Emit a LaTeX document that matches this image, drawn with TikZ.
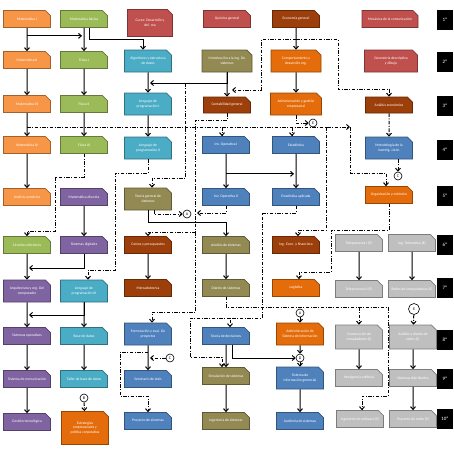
\documentclass[tikz,border=0pt]{standalone}
\usepackage{fontspec}
\setmainfont{Carlito}
\usepackage{tikz}
\usetikzlibrary{arrows.meta,calc,positioning,shapes.misc}
\definecolor{naranja}{HTML}{F79646}
\definecolor{verde}{HTML}{9BBB59}
\definecolor{rojo}{HTML}{C0504D}
\definecolor{turquesa}{HTML}{4BACC6}
\definecolor{oliva}{HTML}{938953}
\definecolor{marron}{HTML}{9C3F0B}
\definecolor{anaranjado}{HTML}{E46C0A}
\definecolor{azul}{HTML}{4F81BD}
\definecolor{morado}{HTML}{8064A2}
\definecolor{gris}{HTML}{BFBFBF}
\tikzset{
	curso/.style={chamfered rectangle,chamfered rectangle corners=north east,chamfered rectangle xsep=2pt,fill=#1,draw=#1!65!black,line width=0.7pt,text=white,minimum width=47pt,minimum height=17pt,inner sep=1pt,align=center,font=\fontsize{3.7}{4.6}\selectfont},
	alto/.style={minimum height=22pt},
	semestre/.style={fill=black,text=white,minimum width=16pt,minimum height=20pt,inner sep=0pt,font=\fontsize{5}{5}\selectfont},
	conector/.style={circle,draw,line width=0.6pt,inner sep=0pt,minimum size=8pt,font=\fontsize{4}{4}\selectfont},
	flecha/.style={-{Straight Barb[length=2.8pt,width=5pt]},line width=1pt},
	pre/.style={-{Straight Barb[length=2.8pt,width=5pt]},line width=1pt,dash pattern=on 3.5pt off 1.5pt on 1pt off 1.5pt}
}
\begin{document}
\begin{tikzpicture}[x=1pt,y=-1pt]
	\useasboundingbox (0,0) rectangle (453,453);

	\node (matI) at (27,19) [curso=naranja] {Matemática I};
	\node (matBas) at (84,19) [curso=verde] {Matemática básica};
	\node (desar) at (150,23) [curso=rojo,minimum width=45pt,minimum height=27pt] {Curso: Desarrollo y\\del. ma};
	\node (quim) at (227,19) [curso=rojo] {Química general};
	\node (econ) at (296,19) [curso=marron] {Economía general};
	\node (mecCom) at (390,19) [curso=rojo,minimum width=56pt] {Mecánica de la comunicación};

	\node (matII) at (27,60) [curso=naranja] {Matemática II};
	\node (fisI) at (84,60) [curso=verde] {Física I};
	\node (algor) at (148,61) [curso=turquesa,alto] {Algoritmos y estructura\\de datos};
	\node (intro) at (227,61) [curso=oliva,alto,minimum width=50pt] {Introducción a la ing. De\\sistemas};
	\node (comport) at (296,61) [curso=anaranjado,alto,minimum width=50pt] {Comportamiento y\\desarrollo org.};
	\node (geom) at (391,61) [curso=rojo,alto,minimum width=53pt] {Geometría descriptiva\\y dibujo};

	\node (matIII) at (27,104) [curso=naranja] {Matemática III};
	\node (fisII) at (84,104) [curso=verde] {Física II};
	\node (lengI) at (148,104) [curso=turquesa,alto] {Lenguaje de\\programación I};
	\node (contab) at (227,105) [curso=marron,minimum height=16pt] {Contabilidad general};
	\node (admin) at (296,104) [curso=anaranjado,alto,minimum width=51pt] {Administración y gestión\\empresarial};
	\node (analEcon) at (389,105) [curso=marron,minimum height=16pt] {Análisis económico};

	\node (matIV) at (27,145) [curso=naranja] {Matemática IV};
	\node (fisIII) at (84,145) [curso=verde] {Física III};
	\node (lengII) at (148,148) [curso=turquesa,alto] {Lenguaje de\\programación II};
	\node (invI) at (226,145) [curso=azul] {Inv. Operativa I};
	\node (estad) at (296,145) [curso=azul] {Estadística};
	\node (metod) at (389,148) [curso=azul,alto] {Metodología de la\\investig. cient.};

	\node (analNum) at (27,197) [curso=naranja] {Análisis numérico};
	\node (matDisc) at (84,197) [curso=morado] {Matemática discreta};
	\node (tgs) at (148,199) [curso=oliva,alto] {Teoría general de\\sistemas};
	\node (invII) at (226,197) [curso=azul] {Inv. Operativa II};
	\node (estadApl) at (296,197) [curso=azul] {Estadística aplicada};
	\node (organiz) at (389,195) [curso=anaranjado] {Organización y métodos};

	\node (circ) at (27,245) [curso=verde] {Circuitos eléctricos};
	\node (sistDig) at (84,245) [curso=morado] {Sistemas digitales};
	\node (costos) at (148,245) [curso=marron] {Costos y presupuestos};
	\node (analSis) at (226,245) [curso=oliva] {Análisis de sistemas};
	\node (ingEcon) at (296,245) [curso=marron] {Ing. Econ. y financiera};
	\node (el6a) at (359,243) [curso=gris] {Teleprocesos I (E)};
	\node (el6b) at (412,243) [curso=gris] {Ing. Telemática (E)};

	\node (arq) at (27,291) [curso=morado,alto] {Arquitectura y org. Del\\computador};
	\node (lengIII) at (84,291) [curso=turquesa,alto] {Lenguaje de\\programación III};
	\node (merc) at (148,288) [curso=marron] {Mercadotecnia};
	\node (diseno) at (226,288) [curso=oliva] {Diseño de sistemas};
	\node (logist) at (296,288) [curso=anaranjado] {Logística};
	\node (el7a) at (359,289) [curso=gris] {Teleprocesos II (E)};
	\node (el7b) at (412,289) [curso=gris] {Redes de computadoras (E)};

	\node (sistOp) at (27,336) [curso=morado] {Sistemas operativos};
	\node (bd) at (84,336) [curso=turquesa] {Base de datos};
	\node (formul) at (148,334) [curso=azul,alto] {Formulación y eval. De\\proyectos};
	\node (teoria) at (226,336) [curso=azul] {Teoría de decisiones};
	\node (adminSI) at (300,334) [curso=anaranjado,alto] {Administración de\\Sistema de Información};
	\node (el8a) at (359,337) [curso=gris,minimum height=24pt] {Construcción de\\compiladores (E)};
	\node (el8b) at (413,337) [curso=gris,minimum height=24pt] {Análisis y diseño de\\redes (E)};

	\node (sistCom) at (27,379) [curso=morado] {Sistema de comunicación};
	\node (tallerBD) at (84,379) [curso=turquesa] {Taller de base de datos};
	\node (seminario) at (148,379) [curso=azul] {Seminario de tesis};
	\node (simul) at (226,376) [curso=oliva] {Simulación de sistemas};
	\node (sig) at (300,378) [curso=azul,alto] {Sistema de\\información gerencial};
	\node (el9a) at (359,378) [curso=gris] {Inteligencia artificial};
	\node (el9b) at (413,378) [curso=gris] {Sistemas distribuidos};

	\node (gestion) at (27,422) [curso=morado] {Gestión tecnológica};
	\node (estrat) at (85,428) [curso=anaranjado,minimum height=33pt] {Estrategias\\empresariales y\\política corporativa};
	\node (proySis) at (148,421) [curso=azul] {Proyecto de sistemas};
	\node (ingSis) at (226,421) [curso=oliva] {Ingeniería de sistemas};
	\node (audit) at (300,421) [curso=azul] {Auditoría de sistemas};
	\node (el10a) at (360,419) [curso=gris] {Ingeniería de software (E)};
	\node (el10b) at (413,419) [curso=gris] {Proyecto de redes (E)};

	\node (sem1) at (445,20) [semestre] {1º};
	\node (sem2) at (445,62) [semestre] {2º};
	\node (sem3) at (445,106) [semestre] {3º};
	\node (sem4) at (445,150) [semestre] {4º};
	\node (sem5) at (445,196) [semestre] {5º};
	\node (sem6) at (445,245) [semestre] {6º};
	\node (sem7) at (445,288) [semestre] {7º};
	\node (sem8) at (445,340) [semestre] {8º};
	\node (sem9) at (445,379) [semestre] {9º};
	\node (sem10) at (445,419) [semestre] {10º};

	\node (A1) at (187,214) [conector] {A};
	\node (E1) at (313,123) [conector] {E};
	\node (C1) at (398,176) [conector] {C};
	\node (A2) at (300,313) [conector] {A};
	\node (E2) at (414,309) [conector,minimum height=11pt] {E};
	\node (C2) at (170,358) [conector] {C};
	\node (D1) at (300,358) [conector] {D};
	\node (B1) at (84,398) [conector] {B};

	\draw[flecha] (matI) -- (matII);
	\draw[flecha] (matII) -- (matIII);
	\draw[flecha] (matIII) -- (matIV);
	\draw[flecha] (matIV) -- (analNum);
	\draw[flecha] (matI.south) ++(0,8) -- ++(55,0);
	\draw[flecha] (matBas) -- (fisI);
	\draw[flecha] ([xshift=5pt]matBas.south) -- ++(0,12) -| ([xshift=-5pt]algor.north);
	\draw[flecha] (fisI) -- (fisII);
	\draw[flecha] (fisII) -- (fisIII);
	\draw[flecha] (algor) -- (lengI);
	\draw[flecha] (lengI) -- (lengII);
	\draw[flecha] (intro.south) |- (150,83);
	\draw[flecha] (intro) -- (contab);
	\draw[flecha] (econ) -- (comport);
	\draw[flecha] (comport) -- (admin);
	\draw[flecha] (invI) -- (invII);
	\draw[flecha] (invI.south) ++(0,20) -- ++(68,0);
	\draw[flecha] (estad) -- (estadApl);
	\draw[flecha] (matDisc) -- (sistDig);
	\draw[flecha] (sistDig.south) |- (29,268);
	\draw[flecha] (circ) -- (arq);
	\draw[flecha] (arq) -- (sistOp);
	\draw[flecha] (sistOp) -- (sistCom);
	\draw[flecha] (sistCom) -- (gestion);
	\draw[flecha] (lengIII) -- (bd);
	\draw[flecha] (lengIII.south) |- (29,315);
	\draw[flecha] (bd) -- (tallerBD);
	\draw[flecha] (costos) -- (merc);
	\draw[flecha] (tgs.south) |- (226,222) -- (analSis.north);
	\draw[flecha] (analSis) -- (diseno);
	\draw[flecha] (formul) -- (seminario);
	\draw[flecha] (teoria) -- (simul);
	\draw[flecha] (simul) -- (ingSis);
	\draw[flecha] ([xshift=6pt]teoria.south) |- (D1);
	\draw[flecha] (adminSI) -- (D1);
	\draw[flecha] (D1) -- (sig);
	\draw[flecha] (sig) -- (audit);
	\draw[flecha] (el6a) -- (el7a);
	\draw[flecha] (el6b) -- (el7b);
	\draw[flecha] (el8a) -- (el9a);
	\draw[flecha] (el8b) -- (el9b);
	\draw[flecha] (el9b) -- (el10b);

	\draw[pre] (comport.north) ++(0,-10) -| (261,90) -- (232,90);
	\draw[pre] (comport.north) ++(0,-10) -| (338,89) -| (analEcon.north);
	\draw[pre] (27,127) -- (350,127);
	\draw[pre] (222,127) -- ([xshift=-4pt]invI.north);
	\draw[pre] (292,127) -- ([xshift=-4pt]estad.north);
	\draw[pre] (350,127) |- (386,173) -- ([xshift=-3pt]organiz.north);
	\draw[pre] (326,127) |- (298,230) -- ([xshift=2pt]ingEcon.north);
	\draw[pre] (admin.south) |- (E1);
	\draw[pre] (analEcon) -- (metod);
	\draw[pre] (metod.south -| C1) -- (C1);
	\draw[pre] (contab.south) -- ++(0,7) -| (195,232) -| (costos.north);
	\draw[pre] (195,232) |- (152,312) -- ([xshift=4pt]formul.north);
	\draw[pre] (lengII.south) |- (115,173) |- (88,270) -- ([xshift=4pt]lengIII.north);
	\draw[pre] (185,83) |- (152,178) -- ([xshift=4pt]tgs.north);
	\draw[pre] (fisIII.south) |- (55,177) |- (27,231) -- (circ.north);
	\draw[pre] ([xshift=6pt]tgs.south) |- (A1);
	\draw[pre] (invII.south) |- (197,213);
	\draw[pre] (estadApl.south) |- (262,213) |- (230,318) -- ([xshift=4pt]teoria.north);
	\draw[pre] (230,318) -- (190,318) |- (222,357) -- ([xshift=-4pt]simul.north);
	\draw[pre] (organiz.south) |- (331,230) |- (299,272) -- ([xshift=3pt]logist.north);
	\draw[pre] (diseno.south) |- (388,307) |- (362,396) -- ([xshift=2pt]el10a.north);
	\draw[pre] (359,307) -- (el8a.north);
	\draw[pre] (A2) -- (adminSI);
	\draw[pre] (E2) -- (el8b);
	\draw[pre] (C2) -- (150,358);
	\draw[pre] (148,352) -| (120,396) -| (proySis.north);
	\draw[pre] (B1) -- (estrat);
\end{tikzpicture}
\end{document}
